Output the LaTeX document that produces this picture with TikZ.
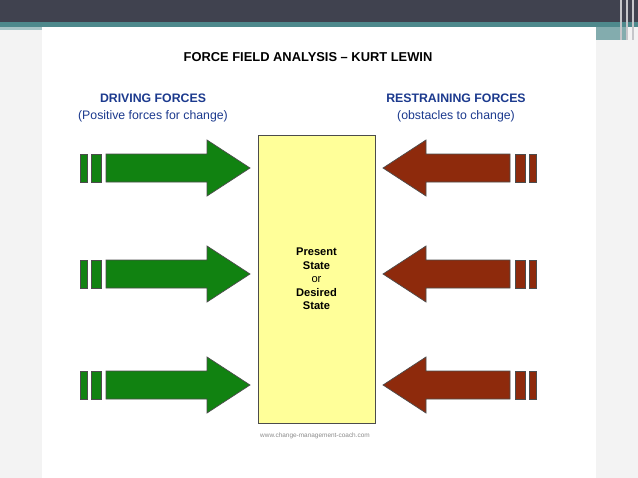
\documentclass[tikz,border=0pt]{standalone}
\usepackage{fontspec}
\setmainfont{Liberation Sans}
\usetikzlibrary{positioning}
\definecolor{slatebar}{HTML}{40424F}
\definecolor{tealbar}{HTML}{4E898C}
\definecolor{pagegrey}{HTML}{F3F3F3}
\definecolor{drivegreen}{HTML}{118211}
\definecolor{restrainbrown}{HTML}{8E2A0C}
\definecolor{stateyellow}{HTML}{FFFF99}
\definecolor{headblue}{HTML}{1C3A8E}
\tikzset{
  force/.style={draw=black!70, line width=0.6pt},
  heading/.style={text=headblue, font=\bfseries\fontsize{10.5}{12.5}\selectfont, align=center},
}
% one force arrow: #1 colour, #2 direction (1 right, -1 left), #3 tip x, #4 y, #5 body end
\newcommand{\forcearrow}[5]{%
  \begin{scope}[shift={(#3,#4)}, xscale=#2]
    \fill[#1, force] (0,0) -- (-43,-28) -- (-43,-14) -- (-#5,-14) -- (-#5,14) -- (-43,14) -- (-43,28) -- cycle;
    \fill[#1, force] (-#5-5,-14) rectangle (-#5-15,14);
    \fill[#1, force] (-#5-19,-14) rectangle (-#5-26,14);
  \end{scope}}
\begin{document}
\begin{tikzpicture}[x=0.03cm, y=-0.03cm]
  \useasboundingbox (0,0) rectangle (638,478);
  \fill[pagegrey] (0,0) rectangle (638,478);
  \fill[white] (42,27) rectangle (596,478);
  \fill[slatebar] (0,0) rectangle (638,22);
  \fill[tealbar] (0,22) rectangle (638,27);
  \fill[tealbar!70] (596,27) rectangle (628,40);
  \fill[tealbar!50] (0,27) rectangle (42,30);
  \foreach \sx in {620,626,632}
    \fill[white!70!slatebar] (\sx,0) rectangle (\sx+1.5,40);

  \node[font=\bfseries\fontsize{11}{13}\selectfont] (title) at (308,57) {FORCE FIELD ANALYSIS -- KURT LEWIN};
  \node[heading] (driving) at (153,98) {DRIVING FORCES};
  \node[heading, font=\fontsize{10.5}{12.5}\selectfont, below=0pt of driving] (drivingsub) {(Positive forces for change)};
  \node[heading] (restraining) at (456,98) {RESTRAINING FORCES};
  \node[heading, font=\fontsize{10.5}{12.5}\selectfont, below=0pt of restraining] (restrainingsub) {(obstacles to change)};

  \node[draw=black!70, fill=stateyellow, line width=0.6pt, minimum width=117*0.03cm, minimum height=288*0.03cm,
        align=center, font=\fontsize{9.5}{11.5}\selectfont] (state) at (316.5,279)
        {\textbf{Present}\\\textbf{State}\\or\\\textbf{Desired}\\\textbf{State}};
  \node[text=black!45, font=\fontsize{5.5}{7}\selectfont] (site) at (315,436) {www.change-management-coach.com};

  \foreach \ry in {168,274,385} {
    \forcearrow{drivegreen}{1}{250}{\ry}{144}
    \forcearrow{restrainbrown}{-1}{383}{\ry}{127}
  }
\end{tikzpicture}
\end{document}
